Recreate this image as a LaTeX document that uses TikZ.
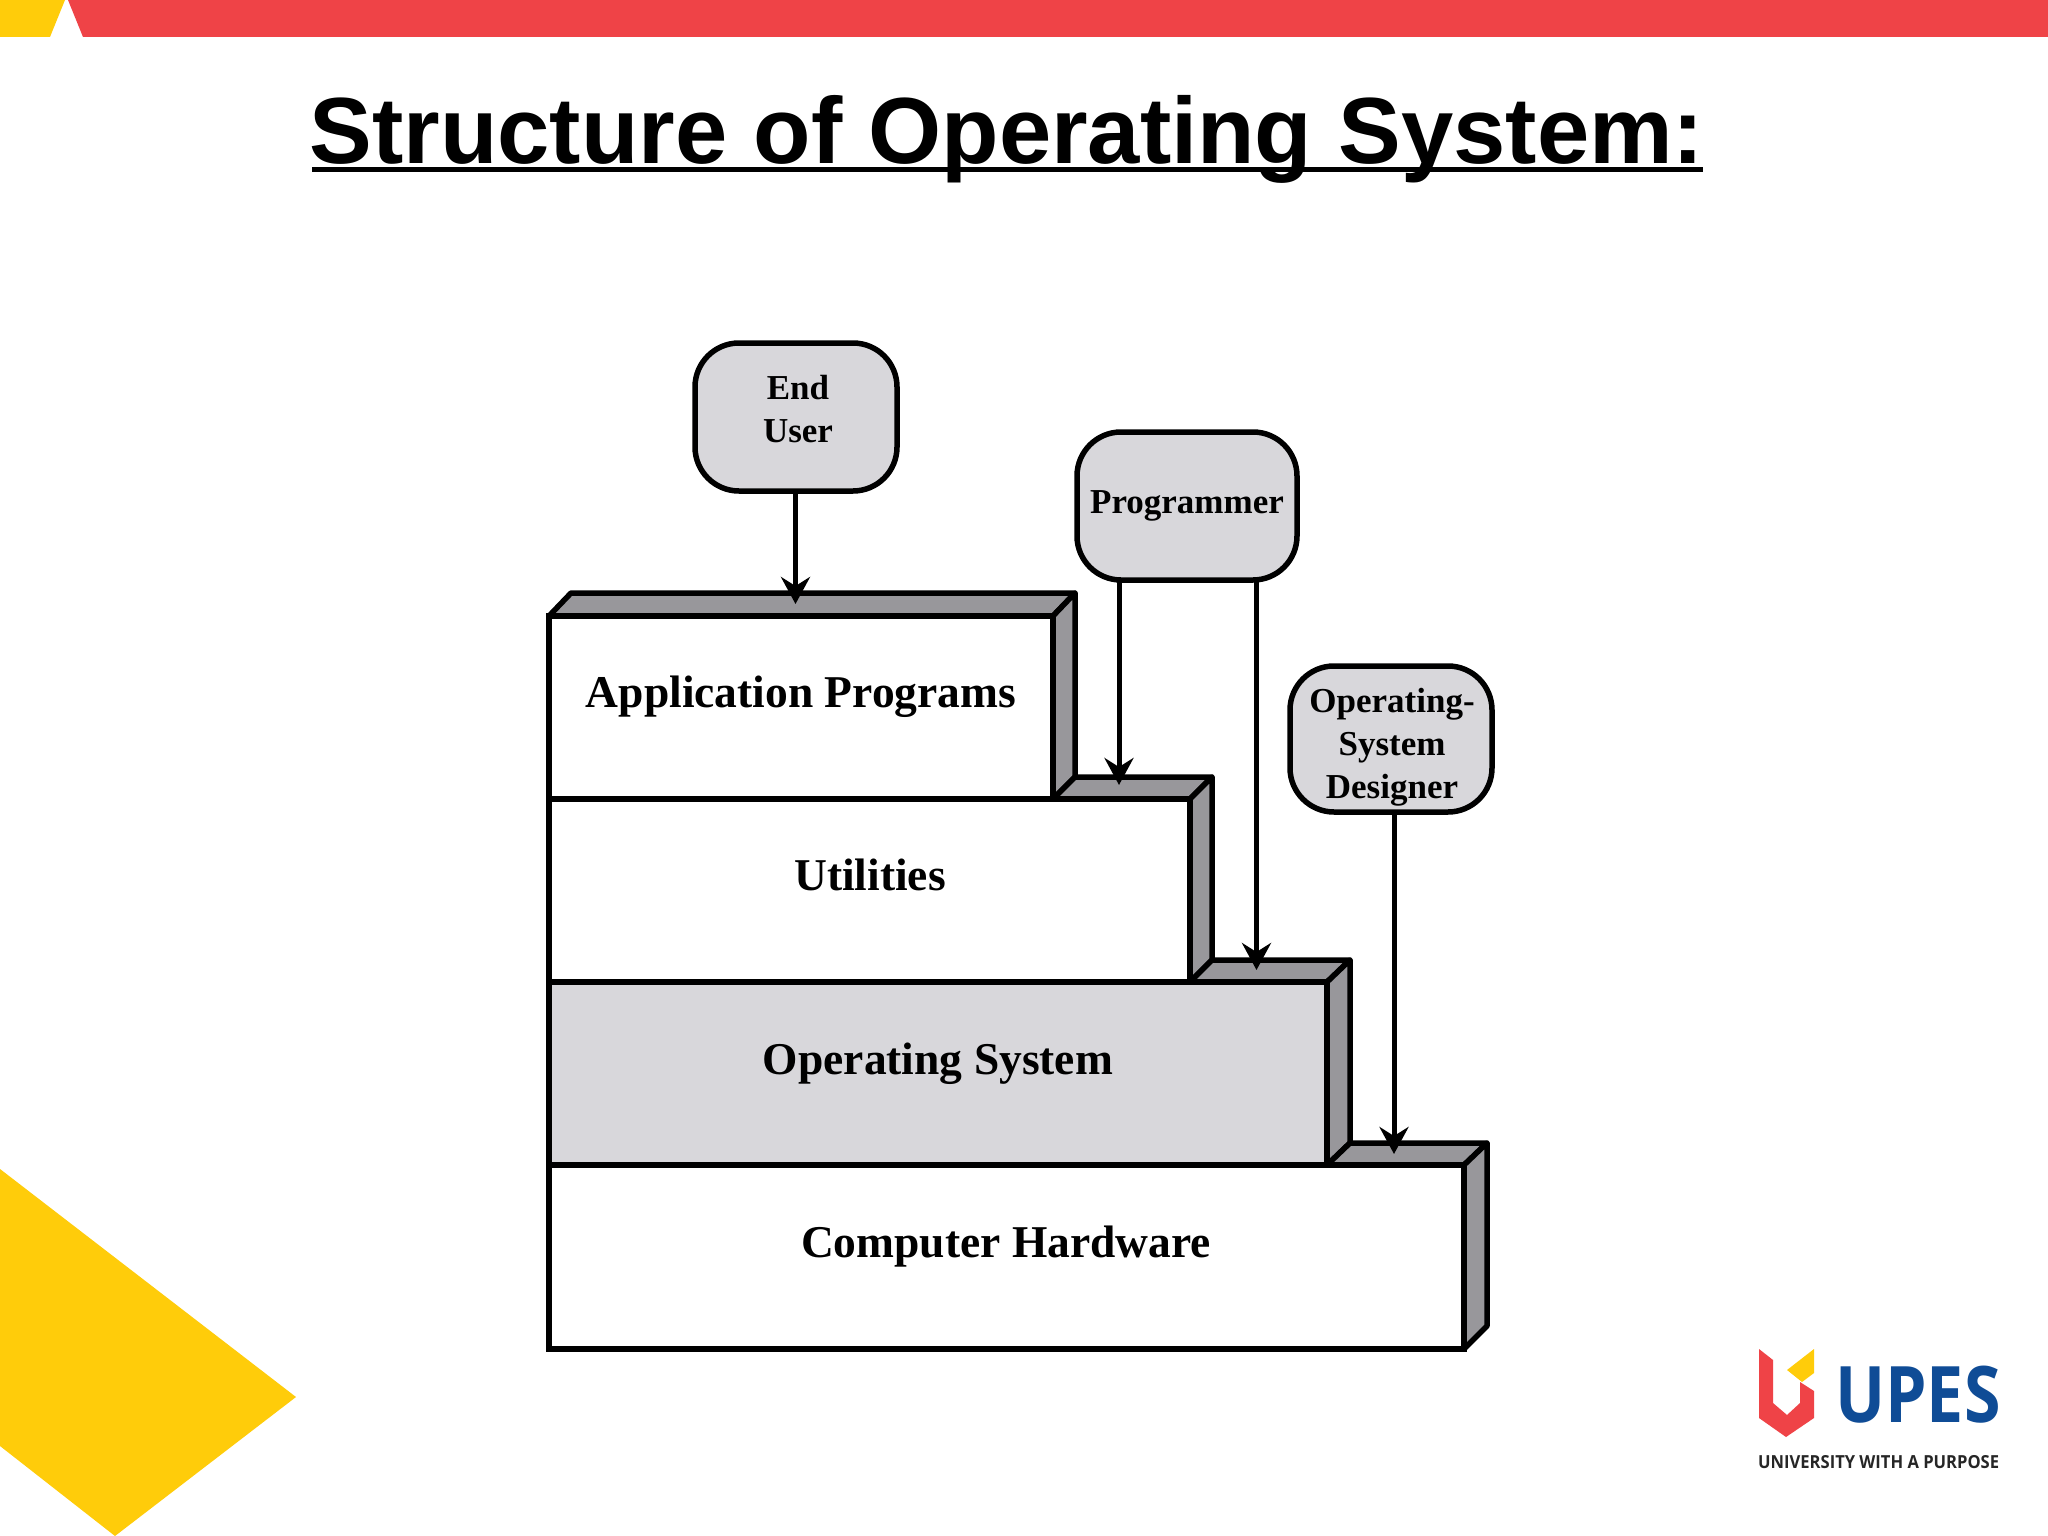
\documentclass[tikz,border=0pt]{standalone}
\usepackage{fontspec}
\setmainfont{Liberation Serif}
\newfontfamily\arialf{Liberation Sans}
\newfontfamily\logof{Open Sans}
\usetikzlibrary{arrows.meta}
\definecolor{upesred}{HTML}{EF4347}
\definecolor{upesyellow}{HTML}{FFCC0A}
\definecolor{upesblue}{HTML}{0F4C96}
\definecolor{sidegray}{HTML}{98979B}
\definecolor{lightgray}{HTML}{D8D7DB}
\tikzset{
  x=1pt,y=-1pt,
  layerbox/.style={draw=black,line width=5.5pt,rectangle,inner sep=0,outer sep=0,anchor=north west,fill=white},
  sideface/.style={draw=black,line width=5.5pt,fill=sidegray,line join=round},
  layertext/.style={font=\fontsize{45.5}{45.5}\selectfont\bfseries,inner sep=0},
  actor/.style={draw=black,line width=5.5pt,fill=lightgray,rectangle,rounded corners=44pt,inner sep=0,outer sep=0},
  actortext/.style={font=\fontsize{35}{43}\selectfont\bfseries,inner sep=0,align=center},
  flow/.style={draw=black,line width=5pt,-{Stealth[length=27pt,width=29pt,inset=9pt]}},
}
\begin{document}
\begin{tikzpicture}
\useasboundingbox (0,0) rectangle (2048,1536);
\fill[white] (0,0) rectangle (2048,1536);
% top band
\fill[upesyellow] (0,0) -- (65,0) -- (50,37) -- (0,37) -- cycle;
\fill[upesred] (68,0) -- (2048,0) -- (2048,37) -- (83,37) -- cycle;
% corner diamond
\fill[upesyellow] (0,1169) -- (296,1397) -- (115,1536) -- (0,1446) -- cycle;
% title
\node[inner sep=0,anchor=base] (title) at (1007,163.5) {\arialf\bfseries\fontsize{94}{94}\selectfont Structure of Operating System:};
\fill[black] (312,167) rectangle (1703,172);
% side faces and tops
\draw[sideface] (549,616) -- (571,593) -- (1075,593) -- (1053,616) -- cycle;
\draw[sideface] (1053,616) -- (1075,593) -- (1075,777) -- (1053,799) -- cycle;
\draw[sideface] (1053,799) -- (1075,777) -- (1212,777) -- (1190,799) -- cycle;
\draw[sideface] (1190,799) -- (1212,777) -- (1212,960) -- (1190,982) -- cycle;
\draw[sideface] (1190,982) -- (1212,960) -- (1350,960) -- (1327,982) -- cycle;
\draw[sideface] (1327,982) -- (1350,960) -- (1350,1143) -- (1327,1165) -- cycle;
\draw[sideface] (1327,1165) -- (1350,1143) -- (1487,1143) -- (1464,1165) -- cycle;
\draw[sideface] (1464,1165) -- (1487,1143) -- (1487,1326) -- (1464,1349) -- cycle;
% fronts
\node[layerbox,minimum width=504pt,minimum height=183pt] (apps) at (549,616) {};
\node[layerbox,minimum width=641pt,minimum height=183pt] (utils) at (549,799) {};
\node[layerbox,fill=lightgray,minimum width=778pt,minimum height=183pt] (os) at (549,982) {};
\node[layerbox,minimum width=915pt,minimum height=184pt] (hw) at (549,1165) {};
\node[layertext] (appst) at (801,697) {Application Programs};
\node[layertext] (utilst) at (870,875) {Utilities};
\node[layertext] (ost) at (938,1064) {Operating System};
\node[layertext] (hwt) at (1006,1247) {Computer Hardware};
% actors
\node[actor,minimum width=202pt,minimum height=148pt] (user) at (796,417) {};
\node[actor,minimum width=220pt,minimum height=148pt] (prog) at (1187,506) {};
\node[actor,minimum width=202pt,minimum height=146pt] (des) at (1391,739) {};
\node[actortext] (usert) at (798,409) {End\\User};
\node[actortext] (progt) at (1187,506) {Programmer};
\node[actortext] (dest) at (1392,747) {Operating-\\System\\Designer};
% arrow ends
\coordinate (userend) at (795.5,604);
\coordinate (progendA) at (1119,785);
\coordinate (progendB) at (1256.5,970);
\coordinate (desend) at (1394,1154);
\draw[flow] (user.south -| userend) -- (userend);
\draw[flow] (prog.south -| progendA) -- (progendA);
\draw[flow] (prog.south -| progendB) -- (progendB);
\draw[flow] (des.south -| desend) -- (desend);
% logo
\fill[upesred] (1759,1349) -- (1773,1360) -- (1773,1403) -- (1787,1415) -- (1800,1403) -- (1800,1382) -- (1814,1391) -- (1814,1418) -- (1786,1437) -- (1759,1418) -- cycle;
\fill[upesyellow] (1814,1349) -- (1814,1373) -- (1802,1382) -- (1787,1370) -- cycle;
\node[anchor=base west,inner sep=0,text=upesblue] (upes) at (1835,1422) {\scalebox{.85}[1]{\logof\bfseries\fontsize{78}{78}\selectfont UPES}};
\node[anchor=base west,inner sep=0,text=black!85] (motto) at (1758,1468) {\scalebox{.92}[1]{\logof\fontsize{18}{18}\selectfont\bfseries UNIVERSITY WITH A PURPOSE}};
\end{tikzpicture}
\end{document}
